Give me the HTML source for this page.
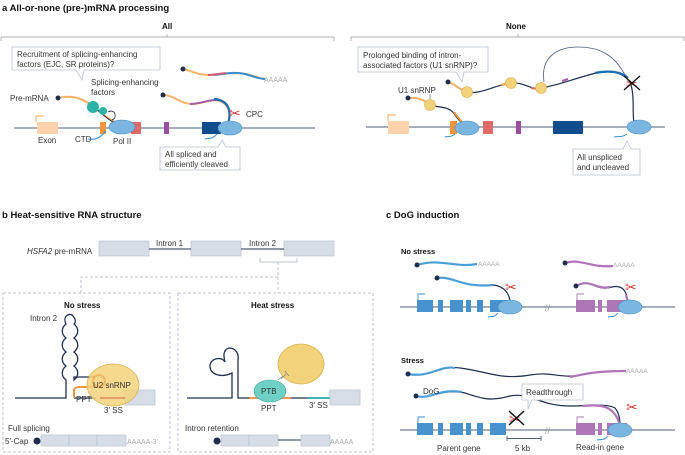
<!DOCTYPE html>
<html><head><meta charset="utf-8"><style>
html,body{margin:0;padding:0;background:#fff}
svg{display:block;font-family:"Liberation Sans",sans-serif}
.t{font-size:8px;fill:#333}
.b{font-weight:bold;fill:#111}
.g{fill:#d6dde7;stroke:#b8c2cf;stroke-width:.7}
.call{fill:#fff;stroke:#b8c2cf;stroke-width:.8}
.nv{fill:none;stroke:#1f2e4d;stroke-width:1.3}
.ln{stroke:#4c5d7a;stroke-width:1.1}
.d{fill:none;stroke:#aab3c0;stroke-width:.8;stroke-dasharray:3,2}
.pol{fill:#7bb6e0;stroke:#4a8fc4;stroke-width:.6}
.sc{font-size:14px;fill:#d23b3b}
</style></head><body>
<svg width="685" height="455" viewBox="0 0 685 455">
<!-- Panel a -->
<text x="2" y="11" font-size="9.5" class="b">a  All-or-none (pre-)mRNA processing</text>
<text x="162" y="29" font-size="8" class="b">All</text>
<path d="M1,41 V37 H334 V41 M167,37 V34" fill="none" stroke="#999" stroke-width=".7"/>
<text x="506" y="29" font-size="8" class="b">None</text>
<path d="M351,41 V37 H684 V41 M518,37 V34" fill="none" stroke="#999" stroke-width=".7"/>

<path class="call" d="M12,47 H160 V70 H84 L82,80 L76,70 H12 Z"/>
<text class="t" x="17" y="57">Recruitment of splicing-enhancing</text>
<text class="t" x="17" y="67">factors (EJC, SR proteins)?</text>
<line class="ln" x1="14" y1="128" x2="315" y2="128"/>
<rect x="37" y="122" width="21" height="12" fill="#fdd3ac"/>
<path d="M36,122 V116 H44" fill="none" stroke="#f7a04a" stroke-width=".9"/>
<text class="t" x="38" y="143" fill="#555">Exon</text>
<rect x="100" y="122" width="6" height="12" fill="#f39440"/>
<rect x="131" y="122" width="10" height="12" fill="#e06a68"/>
<rect x="164" y="122" width="5" height="12" fill="#9d4c9f"/>
<rect x="202" y="122" width="19" height="12" fill="#0f4d8c"/>
<text class="t" x="10" y="101">Pre-mRNA</text>
<path d="M58,98 C75,94 85,100 95,108 C103,115 110,120 122,125" fill="none" stroke="#f8b26a" stroke-width="2"/>
<path d="M95,108 C105,116 110,122 122,126" fill="none" stroke="#1f2e4d" stroke-width="1"/>
<circle cx="58" cy="98" r="2.5" fill="#1f2e4d"/>
<circle cx="93" cy="107" r="6" fill="#2bb3a5"/>
<circle cx="103" cy="111" r="4" fill="#2bb3a5"/>
<path d="M108,112 C115,108 118,118 112,120" fill="none" stroke="#1f2e4d" stroke-width=".8"/>
<text class="t" x="91" y="85">Splicing-enhancing</text>
<text class="t" x="91" y="95">factors</text>
<ellipse class="pol" cx="122" cy="127" rx="13" ry="7"/>
<path d="M106,131 C100,138 96,140 88,139" fill="none" stroke="#3a8fd0" stroke-width="1"/>
<text class="t" x="75" y="142">CTD</text>
<text class="t" x="113" y="144">Pol II</text>
<path d="M183,69 C195,72 200,76 215,75 C230,73 240,72 250,75 C258,77 262,79 265,79" fill="none" stroke="#f8b26a" stroke-width="2"/>
<path d="M215,75 C228,73 235,72 245,74 C255,77 260,79 265,79" fill="none" stroke="#3a8fd0" stroke-width="2"/>
<path d="M208,75 C212,75 218,74 226,73" fill="none" stroke="#d0607a" stroke-width="2"/>
<circle cx="183" cy="69" r="2.5" fill="#1f2e4d"/>
<text x="264" y="82" font-size="7" fill="#aaa">AAAAA</text>
<path d="M163,95 C175,95 180,105 195,104 C208,102 215,98 222,102 C232,108 230,118 228,124" fill="none" stroke="#f8b26a" stroke-width="2"/>
<path d="M190,104 C200,104 210,99 218,100" fill="none" stroke="#a05ca8" stroke-width="2"/>
<path d="M214,99 C228,100 232,110 228,124" fill="none" stroke="#1b6cb3" stroke-width="2.2"/>
<circle cx="163" cy="95" r="2.5" fill="#1f2e4d"/>
<ellipse class="pol" cx="230" cy="128" rx="12" ry="7"/>
<path d="M217,134 C212,140 208,138 205,139" fill="none" stroke="#3a8fd0" stroke-width="1"/>
<text x="229" y="118" class="sc">✂</text>
<text class="t" x="246" y="117">CPC</text>
<path class="call" d="M160,147 H218 L222,140 L226,147 H240 V170 H160 Z"/>
<text class="t" x="165" y="157">All spliced and</text>
<text class="t" x="165" y="167">efficiently cleaved</text>

<path class="call" d="M358,47 H488 V72 H464 L462,82 L456,72 H358 Z"/>
<text class="t" x="363" y="58">Prolonged binding of intron-</text>
<text class="t" x="363" y="68">associated factors (U1 snRNP)?</text>
<line class="ln" x1="366" y1="127" x2="665" y2="127"/>
<rect x="388" y="121" width="21" height="13" fill="#fdd3ac"/>
<path d="M388,121 V115 H396" fill="none" stroke="#f7a04a" stroke-width=".9"/>
<rect x="450" y="121" width="7" height="13" fill="#f39440"/>
<rect x="483" y="121" width="10" height="13" fill="#e06a68"/>
<rect x="516" y="121" width="5" height="13" fill="#9d4c9f"/>
<rect x="553" y="121" width="30" height="13" fill="#0f4d8c"/>
<text class="t" x="398" y="93">U1 snRNP</text>
<line x1="430" y1="94" x2="430" y2="100" stroke="#555" stroke-width=".6"/>
<path d="M408,98 C418,97 424,100 430,105" fill="none" stroke="#f8b26a" stroke-width="2"/>
<path d="M430,105 C440,108 450,106 455,115 C458,120 462,123 465,125" fill="none" stroke="#1f2e4d" stroke-width="1.2"/>
<path d="M454,112 C458,118 462,122 465,125" fill="none" stroke="#f39440" stroke-width="2"/>
<circle cx="408" cy="98" r="2.5" fill="#1f2e4d"/>
<circle cx="430" cy="105" r="5.5" fill="#f3d27a" stroke="#d6b04c" stroke-width=".6"/>
<ellipse class="pol" cx="467" cy="128" rx="12" ry="7"/>
<path d="M455,134 C450,138 448,136 445,137" fill="none" stroke="#3a8fd0" stroke-width="1"/>
<path d="M544,82 C540,55 560,47 578,47 C600,47 615,55 626,77" fill="none" stroke="#4c5d7a" stroke-width=".8"/>
<path d="M448,82 C455,84 460,90 467,92 C480,95 495,85 511,83 C525,82 530,90 541,88 C560,85 575,78 600,72 C615,70 625,75 630,82 C635,95 632,110 634,124" fill="none" stroke="#1f2e4d" stroke-width="1.2"/>
<path d="M448,82 C455,84 460,90 467,92" fill="none" stroke="#f8b26a" stroke-width="2"/>
<path d="M595,73 C610,70 622,72 628,78" fill="none" stroke="#1b6cb3" stroke-width="2.2"/>
<path d="M562,81 L568,79" stroke="#a05ca8" stroke-width="2"/>
<path d="M531,88 L537,89" stroke="#e06a68" stroke-width="2"/>
<path d="M501,85 L506,84" stroke="#f39440" stroke-width="2"/>
<circle cx="448" cy="82" r="2.5" fill="#1f2e4d"/>
<circle cx="467" cy="92" r="5.5" fill="#f3d27a" stroke="#d6b04c" stroke-width=".6"/>
<circle cx="511" cy="83" r="5.5" fill="#f3d27a" stroke="#d6b04c" stroke-width=".6"/>
<circle cx="541" cy="88" r="5.5" fill="#f3d27a" stroke="#d6b04c" stroke-width=".6"/>
<text x="626" y="89" class="sc">✂</text>
<path d="M624,76 L640,90 M640,76 L624,90" stroke="#111" stroke-width="1.3"/>
<ellipse class="pol" cx="639" cy="127" rx="12" ry="7"/>
<path d="M627,134 C621,138 618,136 614,137" fill="none" stroke="#3a8fd0" stroke-width="1"/>
<path class="call" d="M573,149 H623 L627,141 L631,149 H640 V175 H573 Z"/>
<text class="t" x="577" y="160">All unspliced</text>
<text class="t" x="577" y="170">and uncleaved</text>

<!-- Panel b -->
<text x="2" y="218" font-size="9.5" class="b">b  Heat-sensitive RNA structure</text>
<text class="t" x="27" y="254"><tspan font-style="italic">HSFA2</tspan> pre-mRNA</text>
<rect class="g" x="99" y="241" width="50" height="15"/>
<rect class="g" x="191" y="241" width="50" height="15"/>
<rect class="g" x="284" y="241" width="50" height="15"/>
<line x1="149" y1="249" x2="191" y2="249" stroke="#1f2e4d" stroke-width="1"/>
<line x1="241" y1="249" x2="284" y2="249" stroke="#1f2e4d" stroke-width="1"/>
<text class="t" x="156" y="246">Intron 1</text>
<text class="t" x="249" y="246">Intron 2</text>
<path d="M260,258 V262 H297 V258" fill="none" stroke="#aab3c0" stroke-width=".8"/>
<path class="d" d="M278,262 V293 M278,277 H81 V293"/>
<rect class="d" x="3" y="293" width="167" height="159"/>
<rect class="d" x="178" y="293" width="195" height="159"/>
<text x="64" y="308" font-size="8" class="b">No stress</text>
<text x="251" y="308" font-size="8" class="b">Heat stress</text>
<text class="t" x="30" y="321">Intron 2</text>
<path class="nv" d="M15,398 H66 V380 C61,376 61,370 66,366 C61,362 61,356 66,352 C61,348 61,342 66,338 C61,334 61,328 66,324 C62,316 70,312 73,316 C76,320 76,322 74,324 C79,328 79,334 74,338 C79,342 79,348 74,352 C79,356 79,362 74,366 C79,370 79,376 74,380 V378 V377 H95"/>
<path d="M74,398 H96" stroke="#1f2e4d" stroke-width="1.2"/>
<path d="M74,398 V391 C74,388 76,387 80,387 H95" fill="none" stroke="#f39440" stroke-width="2"/>
<rect class="g" x="125" y="390" width="30" height="15"/>
<ellipse cx="113" cy="385" rx="26" ry="21" fill="#f3d27a" fill-opacity=".85" stroke="#d6b04c" stroke-width=".7"/>
<circle cx="99" cy="381" r="6" fill="none" stroke="#f39440" stroke-opacity=".5" stroke-width="2"/>
<path d="M100,398 H125" stroke="#e2885a" stroke-width="1.5"/>
<text class="t" x="93" y="388">U2 snRNP</text>
<text class="t" x="76" y="402">PPT</text>
<text class="t" x="104" y="413">3′ SS</text>
<text class="t" x="8" y="431">Full splicing</text>
<text class="t" x="5" y="444">5′-Cap</text>
<circle cx="37" cy="441" r="3.5" fill="#1f2e4d"/>
<rect class="g" x="41" y="435" width="28" height="11"/>
<rect class="g" x="69" y="435" width="28" height="11"/>
<rect class="g" x="97" y="435" width="29" height="11"/>
<text x="127" y="444" font-size="7" fill="#aaa">AAAAA-3′</text>
<path class="nv" d="M187,398 H232 V373 C222,378 210,375 210,366 C210,358 222,356 225,362 C224,358 222,350 229,348 C236,348 239,354 238,360 V398 H330"/>
<path d="M249,398 H291" stroke="#f39440" stroke-width="1.8"/>
<path d="M308,398 H330" stroke="#2bb3a5" stroke-width="1.8"/>
<rect class="g" x="330" y="390" width="30" height="15"/>
<ellipse cx="270" cy="391" rx="16" ry="11" fill="#6fd0c6" stroke="#3aa89c" stroke-width=".6"/>
<text class="t" x="261" y="394">PTB</text>
<ellipse cx="301" cy="364" rx="23" ry="20" fill="#f3d27a" stroke="#d6b04c" stroke-width=".7"/>
<path d="M281,379 L286,374 M283,376 L278,380 M285,371 L289,376" stroke="#888" stroke-width=".8"/>
<text class="t" x="261" y="411">PPT</text>
<text class="t" x="309" y="408">3′ SS</text>
<text class="t" x="185" y="431">Intron retention</text>
<circle cx="217" cy="441" r="3.5" fill="#1f2e4d"/>
<rect class="g" x="221" y="435" width="28" height="11"/>
<rect class="g" x="249" y="435" width="29" height="11"/>
<line x1="278" y1="440" x2="301" y2="440" stroke="#1f2e4d" stroke-width="1"/>
<rect class="g" x="301" y="435" width="29" height="11"/>
<text x="330" y="444" font-size="7" fill="#aaa">AAAAA</text>

<!-- Panel c -->
<text x="386" y="218" font-size="9.5" class="b">c  DoG induction</text>
<text x="401" y="254" font-size="7.5" class="b">No stress</text>
<text x="401" y="363" font-size="7.5" class="b">Stress</text>
<g id="gene1">
<line class="ln" x1="400" y1="307" x2="675" y2="307"/>
<g fill="#4791cd">
<rect x="417" y="300" width="16" height="12"/><rect x="438" y="300" width="5" height="12"/>
<rect x="450" y="300" width="13" height="12"/><rect x="466" y="300" width="5" height="12"/>
<rect x="477" y="300" width="6" height="12"/><rect x="490" y="300" width="16" height="12"/>
</g>
<path d="M418,300 V294 H425" fill="none" stroke="#3a8fd0" stroke-width=".9"/>
<g fill="#b074b8">
<rect x="576" y="300" width="19" height="12"/><rect x="598" y="300" width="4" height="12"/>
<rect x="607" y="300" width="20" height="12"/>
</g>
<path d="M577,300 V294 H584" fill="none" stroke="#b074b8" stroke-width=".9"/>
<text x="545" y="311" font-size="9" fill="#999">//</text>
</g>
<use href="#gene1" y="123"/>
<path d="M417,265 C440,258 455,268 477,264" fill="none" stroke="#4a9fd8" stroke-width="2.2"/>
<circle cx="417" cy="265" r="2.5" fill="#1f2e4d"/>
<text x="478" y="266" font-size="6.5" fill="#aaa">AAAAA</text>
<path d="M437,278 C455,276 460,288 493,285 C505,286 510,295 510,303" fill="none" stroke="#1f2e4d" stroke-width="1.2"/>
<path d="M437,278 C455,276 460,288 493,285" fill="none" stroke="#4a9fd8" stroke-width="2.2"/>
<circle cx="437" cy="278" r="2.5" fill="#1f2e4d"/>
<ellipse class="pol" cx="510" cy="307" rx="12" ry="7"/>
<path d="M498,313 C494,318 490,316 488,317" fill="none" stroke="#3a8fd0" stroke-width="1"/>
<text x="505" y="292" class="sc">✂</text>
<path d="M565,263 C580,258 590,268 613,266" fill="none" stroke="#b074b8" stroke-width="2.2"/>
<circle cx="565" cy="263" r="2.5" fill="#1f2e4d"/>
<text x="613" y="267" font-size="6.5" fill="#aaa">AAAAA</text>
<path d="M576,286 C592,278 595,292 612,287 C625,284 627,295 628,302" fill="none" stroke="#1f2e4d" stroke-width="1.2"/>
<path d="M576,286 C590,278 595,290 610,287 M626,295 L628,302" fill="none" stroke="#b074b8" stroke-width="2.2"/>
<circle cx="576" cy="286" r="2.5" fill="#1f2e4d"/>
<ellipse class="pol" cx="630" cy="307" rx="12" ry="7"/>
<path d="M618,313 C614,318 610,316 608,317" fill="none" stroke="#3a8fd0" stroke-width="1"/>
<text x="625" y="292" class="sc">✂</text>
<path d="M408,374 C430,378 440,365 460,368 C490,372 500,380 530,375 C555,371 560,380 585,374 C600,371 610,371 626,371" fill="none" stroke="#1f2e4d" stroke-width="1.2"/>
<path d="M408,374 C430,378 440,365 455,368" fill="none" stroke="#4a9fd8" stroke-width="2.2"/>
<path d="M570,377 C585,374 595,371 626,371" fill="none" stroke="#b074b8" stroke-width="2.2"/>
<circle cx="408" cy="374" r="2.5" fill="#1f2e4d"/>
<text x="626" y="373" font-size="6.5" fill="#aaa">AAAAA</text>
<path d="M416,396 C430,400 440,388 465,393 C480,398 490,402 510,396 C530,392 540,406 570,406 C590,406 605,403 615,408 C620,414 620,422 620,426" fill="none" stroke="#1f2e4d" stroke-width="1.2"/>
<path d="M416,396 C430,400 440,388 462,392" fill="none" stroke="#4a9fd8" stroke-width="2.2"/>
<path d="M583,406 C600,404 615,405 620,426" fill="none" stroke="#b074b8" stroke-width="2.2"/>
<circle cx="416" cy="396" r="2.5" fill="#1f2e4d"/>
<text class="t" x="423" y="394">DoG</text>
<path class="call" d="M522,384 H583 V400 H532 L528,409 L528,400 H522 Z"/>
<text class="t" x="526" y="395">Readthrough</text>
<text x="509" y="424" class="sc">✂</text>
<path d="M509,411 L524,425 M524,411 L509,425" stroke="#111" stroke-width="1.5"/>
<ellipse class="pol" cx="620" cy="430" rx="12" ry="7"/>
<path d="M608,436 C604,441 600,439 597,440" fill="none" stroke="#3a8fd0" stroke-width="1"/>
<text x="626" y="412" class="sc">✂</text>
<path d="M507,436 V441 M507,438.5 H541 M541,436 V441" stroke="#4c5d7a" stroke-width=".9"/>
<text class="t" x="515" y="451">5 kb</text>
<text class="t" x="437" y="451">Parent gene</text>
<text class="t" x="576" y="450">Read-in gene</text>
</svg>
</body></html>
